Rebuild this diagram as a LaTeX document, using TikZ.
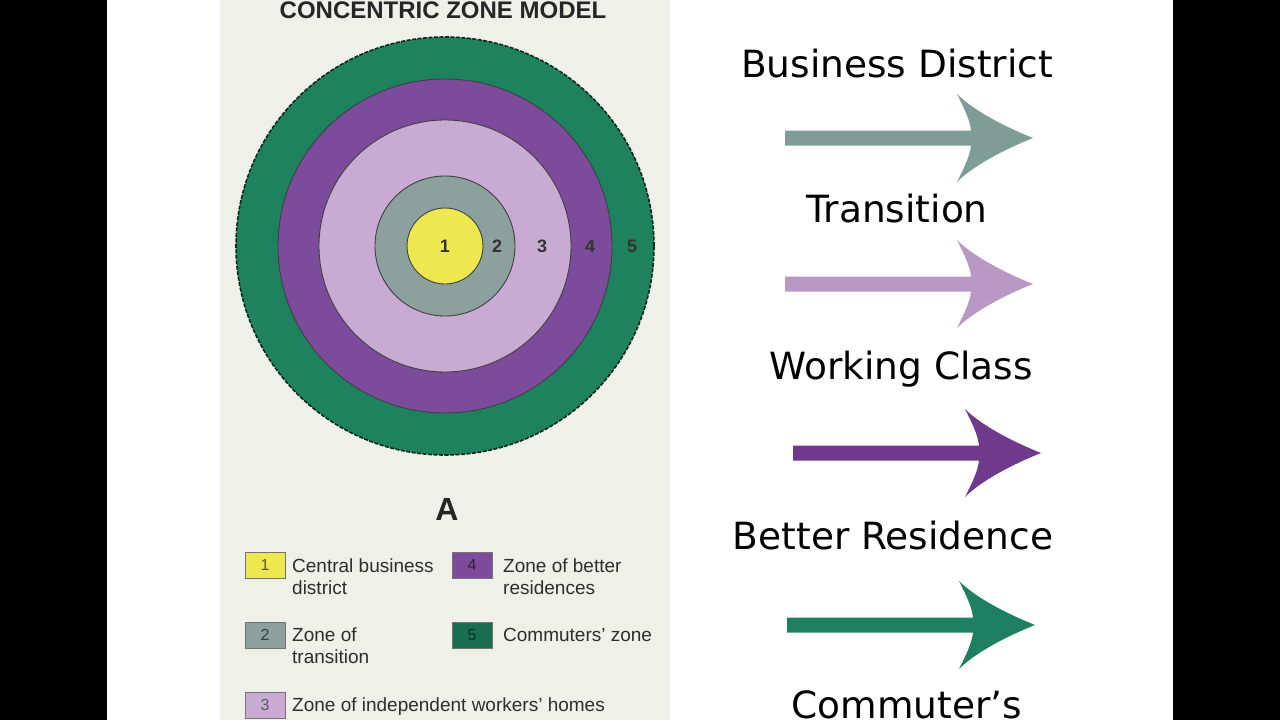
\documentclass[tikz,border=0pt]{standalone}
\usepackage{fontspec}
\setmainfont{Liberation Sans}
\newfontfamily\dvs{DejaVu Sans}
\definecolor{panel}{RGB}{240,240,234}
\definecolor{zgreen}{RGB}{30,130,95}
\definecolor{zpurple}{RGB}{125,75,155}
\definecolor{zlilac}{RGB}{200,170,210}
\definecolor{zgrey}{RGB}{140,160,158}
\definecolor{zyellow}{RGB}{238,232,80}
\definecolor{aone}{RGB}{127,157,150}
\definecolor{atwo}{RGB}{185,152,196}
\definecolor{athree}{RGB}{112,58,140}
\definecolor{afour}{RGB}{30,128,96}
\definecolor{ltext}{RGB}{45,45,45}
\tikzset{
  ring/.style={circle, inner sep=0pt, draw=black!75, line width=0.9pt},
  znum/.style={font=\fontsize{18}{20}\selectfont\bfseries, text=black!80, inner sep=0pt},
  legbox/.style={draw=black!55, line width=0.8pt, minimum width=40pt, minimum height=26pt, inner sep=0pt, font=\fontsize{16}{18}\selectfont},
  legtext/.style={font=\fontsize{19}{22}\selectfont, text=ltext, align=left, anchor=north west, inner sep=0pt},
  biglabel/.style={font=\dvs\fontsize{37.5}{40}\selectfont, anchor=base, inner sep=0pt},
  pics/zarrow/.style={code={
    \fill[#1] (0,0) .. controls (-30,-12) and (-60,-28) .. (-76,-44)
      .. controls (-69,-30) and (-63,-18) .. (-62,-7.5) -- (-248,-7.5) -- (-248,7.5) -- (-62,7.5)
      .. controls (-63,18) and (-69,30) .. (-76,44)
      .. controls (-60,28) and (-30,12) .. (0,0) -- cycle;
  }}
}
\begin{document}
\begin{tikzpicture}[x=1pt,y=-1pt]
\useasboundingbox (0,0) rectangle (1280,720);
% background
\fill[white] (0,0) rectangle (1280,720);
\fill[black] (0,0) rectangle (107,720);
\fill[black] (1173,0) rectangle (1280,720);
\fill[panel] (220,0) rectangle (670,720);
% title
\node[font=\fontsize{24}{26}\selectfont\bfseries, text=black!85, anchor=base, inner sep=0pt] (title) at (443,18) {CONCENTRIC ZONE MODEL};
% concentric zones
\node[ring, fill=zgreen, draw=black!70!zgreen, line width=1.6pt, dash pattern=on 4pt off 1.5pt, minimum size=418pt] (zone5) at (445,246) {};
\node[ring, fill=zpurple, minimum size=334pt] (zone4) at (445,246) {};
\node[ring, fill=zlilac, minimum size=252pt] (zone3) at (445,246) {};
\node[ring, fill=zgrey, minimum size=140pt] (zone2) at (445,246) {};
\node[ring, fill=zyellow, minimum size=76pt] (zone1) at (445,246) {};
\node[znum] (n1) at (445,246) {1};
\node[znum] (n2) at (497,246) {2};
\node[znum] (n3) at (542,246) {3};
\node[znum] (n4) at (590,246) {4};
\node[znum] (n5) at (632,246) {5};
% A
\node[font=\fontsize{32}{34}\selectfont\bfseries, text=black!85, anchor=base, inner sep=0pt] (lblA) at (447,520) {A};
% legend
\node[legbox, fill=zyellow, text=black!60!zyellow] (b1) at (265,565) {1};
\node[legtext] (t1) at (292,559) {Central business\\district};
\node[legbox, fill=zpurple, text=black!60!zpurple] (b4) at (472,565) {4};
\node[legtext] (t4) at (503,559) {Zone of better\\residences};
\node[legbox, fill=zgrey, text=black!60!zgrey] (b2) at (265,635) {2};
\node[legtext] (t2) at (292,628) {Zone of\\transition};
\node[legbox, fill=zgreen!85!black, text=black!60!zgreen] (b5) at (472,635) {5};
\node[legtext] (t5) at (503,628) {Commuters' zone};
\node[legbox, fill=zlilac, text=black!50!zlilac] (b3) at (265,705) {3};
\node[legtext] (t3) at (292,698) {Zone of independent workers' homes};
% right side labels
\node[biglabel] (l1) at (897,77) {Business District};
\node[biglabel] (l2) at (897,222) {Transition};
\node[biglabel] (l3) at (901,379) {Working Class};
\node[biglabel] (l4) at (893,549) {Better Residence};
\node[biglabel] (l5) at (907,718) {Commuter’s};
% arrows
\pic at (1033,138) {zarrow=aone};
\pic at (1033,284) {zarrow=atwo};
\pic at (1041,453) {zarrow=athree};
\pic at (1035,625) {zarrow=afour};
\end{tikzpicture}
\end{document}
